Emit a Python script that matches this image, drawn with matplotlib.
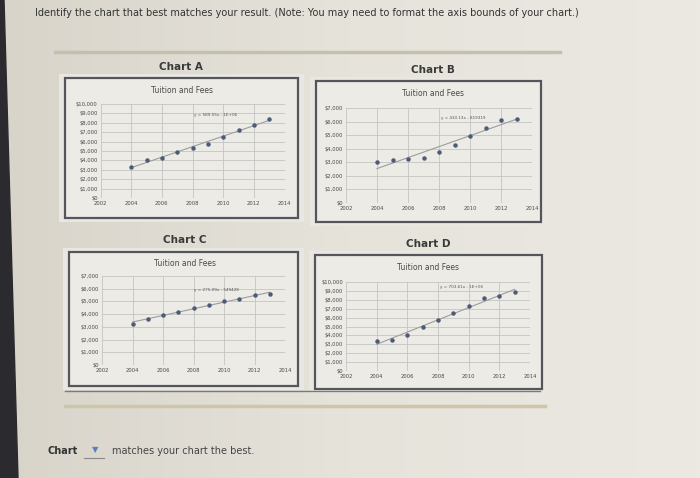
import numpy as np
import matplotlib.pyplot as plt
from matplotlib.patches import Rectangle, Polygon
from matplotlib.ticker import FuncFormatter

# data
years = [2004, 2005, 2006, 2007, 2008, 2009, 2010, 2011, 2012, 2013]
fees_a = [3300, 4000, 4300, 4900, 5300, 5700, 6500, 7200, 7800, 8400]
fees_b = [3000, 3150, 3250, 3300, 3750, 4250, 4950, 5550, 6150, 6200]
fees_c = [3250, 3650, 3950, 4200, 4450, 4700, 5000, 5200, 5500, 5600]
fees_d = [3350, 3450, 4100, 4950, 5700, 6500, 7300, 8200, 8450, 8900]
chart_names = ["Chart A", "Chart B", "Chart C", "Chart D"]
equations = ["y = 589.55x - 1E+06", "y = 410.13x - 819319",
             "y = 275.09x - 549428", "y = 703.61x - 1E+06"]
y_max = [10000, 7000, 7000, 10000]
x_ticks = [2002, 2004, 2006, 2008, 2010, 2012, 2014]

W, H = 700, 478
fig = plt.figure(figsize=(7, 4.78), dpi=100)
plt.rcParams['font.family'] = ['DejaVu Sans']


def rect(l, t, r, b):
    return [l / W, 1 - b / H, (r - l) / W, (b - t) / H]


# background layer in pixel coordinates
bg = fig.add_axes([0, 0, 1, 1])
bg.set_xlim(0, W)
bg.set_ylim(H, 0)
bg.axis('off')
grad = np.linspace(0, 1, 200)[None, :]
bg.imshow(grad, extent=[0, W, H, 0], aspect='auto', cmap=plt.matplotlib.colors.LinearSegmentedColormap.from_list(
    'bg', ['#d8d4ca', '#e6e3db', '#ebe9e2']), zorder=0)
bg.add_patch(Polygon([[0, 0], [4, 0], [18, H], [0, H]], color='#2b2b2f', zorder=1))

bg.text(35, 13, "Identify the chart that best matches your result. (Note: You may need to format the axis bounds of your chart.)",
        fontsize=7, color='#333333', va='center')
bg.plot([55, 560], [52, 52], color='#c5c0ad', lw=2.5, zorder=3)
bg.plot([65, 540], [391, 391], color='#7a7a7a', lw=1, zorder=3)
bg.plot([65, 545], [406, 406], color='#cdc6a8', lw=2.5, zorder=3)

bg.text(48, 451, "Chart", fontsize=7, fontweight='bold', color='#333333', va='center')
bg.text(95, 450, "\u25bc", fontsize=6, color='#5a7fc0', va='center', ha='center')
bg.plot([84, 104], [458, 458], color='#888888', lw=0.8)
bg.text(112, 451, "matches your chart the best.", fontsize=7, color='#444444', va='center')

layout = [
    dict(box=(65, 78, 298, 218), title=(181, 67), sub=(182, 90), plot=(100.5, 104, 284.5, 198), eq=(2008.1, 8850)),
    dict(box=(316, 81, 541, 222), title=(433, 70), sub=(433, 93), plot=(346, 108, 532, 203), eq=(2008.1, 6300)),
    dict(box=(69, 252, 298, 386), title=(185, 240), sub=(185, 263), plot=(102, 276, 285, 365), eq=(2008.0, 5900)),
    dict(box=(315, 255, 542, 389), title=(428, 244), sub=(428, 267), plot=(346, 282, 530, 371), eq=(2008.1, 9450)),
]
all_fees = [fees_a, fees_b, fees_c, fees_d]

for name, fees, ymax, eq, lay in zip(chart_names, all_fees, y_max, equations, layout):
    l, t, r, b = lay['box']
    # lighter panel behind each chart
    bg.add_patch(Rectangle((l - 6, t - 4), r - l + 12, b - t + 8, facecolor='#e9e7e1', edgecolor='none', zorder=1))
    bg.add_patch(Rectangle((l, t), r - l, b - t, facecolor='#edebe6', edgecolor='#55565c', lw=1.6, zorder=2))
    bg.text(*lay['title'], name, fontsize=7.5, fontweight='bold', color='#3a3a3a', ha='center', va='center', zorder=3)
    bg.text(*lay['sub'], "Tuition and Fees", fontsize=5.5, color='#4a4a4a', ha='center', va='center', zorder=3)

    ax = fig.add_axes(rect(*lay['plot']))
    ax.patch.set_alpha(0)
    ax.set_xlim(2002, 2014)
    ax.set_ylim(0, ymax)
    ax.set_xticks(x_ticks)
    ax.set_yticks(np.arange(0, ymax + 1, 1000))
    ax.yaxis.set_major_formatter(FuncFormatter(lambda v, p: f"${v:,.0f}"))
    ax.grid(True, color='#c4c4c4', lw=0.6)
    ax.set_axisbelow(True)
    for s in ax.spines.values():
        s.set_visible(False)
    ax.tick_params(length=0, labelsize=3.8, colors='#4a4a4a', pad=2)

    k, c0 = np.polyfit(years, fees, 1)
    xs = np.array([years[0], years[-1]])
    ax.plot(xs, k * xs + c0, color='#9c9c9c', lw=0.8, zorder=2)
    ax.plot(years, fees, 'o', ms=2.2, color='#4d5a78', zorder=3)
    ax.text(*lay['eq'], eq, fontsize=3, color='#555555', va='center', ha='left', zorder=4)

fig.savefig("out.png", dpi=100)
